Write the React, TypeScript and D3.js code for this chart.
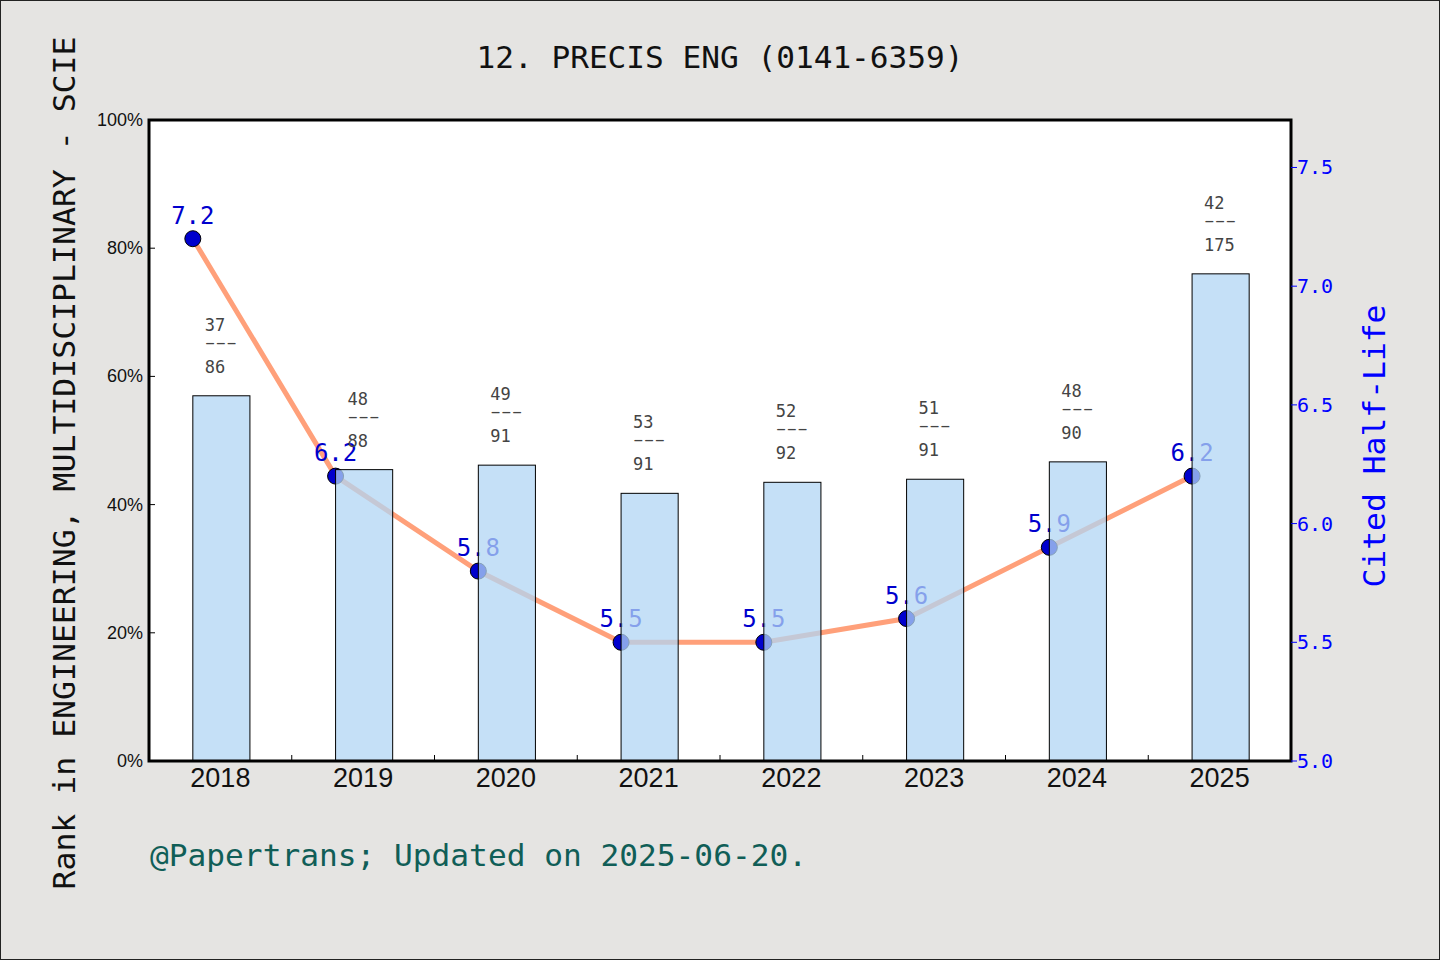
import * as React from 'react'
import * as d3 from 'd3'

// journal rank data, one entry per year
const years = ['2018', '2019', '2020', '2021', '2022', '2023', '2024', '2025']
const ranks = [37, 48, 49, 53, 52, 51, 48, 42]
const totals = [86, 88, 91, 91, 92, 91, 90, 175]
const halfLife = [7.2, 6.2, 5.8, 5.5, 5.5, 5.6, 5.9, 6.2]
const pctTicks = [0, 0.2, 0.4, 0.6, 0.8, 1.0]
const hlTicks = [5.0, 5.5, 6.0, 6.5, 7.0, 7.5]

const W = 1440
const H = 960
const left = 149
const right = 1291
const top = 120
const bottom = 761

const MONO = '"DejaVu Sans Mono", monospace'
const SANS = '"Liberation Sans", Arial, sans-serif'

export default function App() {
  const x = d3.scaleBand<string>().domain(years).range([left + 1, right + 1]).paddingInner(0.6).paddingOuter(0.3)
  const xStep = d3.scaleBand<string>().domain(years).range([left, right]).padding(0)
  const yPct = d3.scaleLinear().domain([0, 1]).range([bottom, top])
  const yHL = d3.scaleLinear().domain([5.0, 7.7]).range([bottom, top])
  const bw = x.bandwidth()

  const pts: [number, number][] = years.map((yr, i) => [x(yr)!, yHL(halfLife[i])])
  const linePath = d3.line()(pts) || ''

  return (
    <svg width={W} height={H} style={{ position: 'absolute', left: 0, top: 0 }}>
      <rect x={0.5} y={0.5} width={W - 1} height={H - 1} fill="#e5e4e2" stroke="#222" strokeWidth={1} />
      <rect x={left} y={top} width={right - left} height={bottom - top} fill="#fff" />

      {/* half-life line and markers, beneath the bars */}
      <path d={linePath} fill="none" stroke="#ffa07a" strokeWidth={5} />
      {pts.map(([px, py], i) => (
        <g key={years[i]}>
          <circle cx={px} cy={py} r={8} fill="#0000cd" stroke="#000" strokeWidth={1} />
          <text x={px} y={py - 15} textAnchor="middle" fontFamily={MONO} fontSize={24} fill="#0000cd">
            {halfLife[i].toFixed(1)}
          </text>
        </g>
      ))}

      {/* rank bars */}
      {years.map((yr, i) => {
        const v = 1 - ranks[i] / totals[i]
        const bt = yPct(v)
        const lx = x(yr)! + 12
        return (
          <g key={yr}>
            <rect x={x(yr)!} y={bt} width={bw} height={bottom - bt} fill="rgb(177,213,244)" fillOpacity={0.75} stroke="#000" strokeWidth={1} />
            <g fontFamily={MONO} fontSize={17} fill="#444">
              <text x={lx} y={bt - 65}>{ranks[i]}</text>
              <text x={lx} y={bt - 48} fontFamily={SANS} textLength={32} lengthAdjust="spacingAndGlyphs">---</text>
              <text x={lx} y={bt - 23}>{totals[i]}</text>
            </g>
          </g>
        )
      })}

      {/* frame */}
      <rect x={left} y={top} width={right - left} height={bottom - top} fill="none" stroke="#000" strokeWidth={3} />

      {/* bottom axis */}
      {years.slice(1).map(yr => (
        <line key={yr} x1={xStep(yr)!} x2={xStep(yr)!} y1={bottom} y2={bottom - 6} stroke="#000" strokeWidth={1} />
      ))}
      {years.map(yr => (
        <text key={yr} x={xStep(yr)! + xStep.bandwidth() / 2} y={787} textAnchor="middle" fontFamily={SANS} fontSize={27} fill="#111">
          {yr}
        </text>
      ))}

      {/* left axis */}
      {pctTicks.map(t => (
        <g key={t}>
          <line x1={left} x2={left + 6} y1={yPct(t)} y2={yPct(t)} stroke="#000" strokeWidth={1} />
          <text x={143} y={yPct(t) + 6} textAnchor="end" fontFamily={SANS} fontSize={18} fill="#111">
            {d3.format('.0%')(t)}
          </text>
        </g>
      ))}

      {/* right axis */}
      {hlTicks.map(t => (
        <g key={t}>
          <line x1={right} x2={right + 6} y1={yHL(t)} y2={yHL(t)} stroke="#0000ff" strokeWidth={1} />
          <text x={1297} y={yHL(t) + 7} fontFamily={MONO} fontSize={20} fill="#0000ff">
            {d3.format('.1f')(t)}
          </text>
        </g>
      ))}

      {/* titles */}
      <text x={720} y={68} textAnchor="middle" fontFamily={MONO} fontSize={31} fill="#111" textLength={487} lengthAdjust="spacingAndGlyphs">
        12. PRECIS ENG (0141-6359)
      </text>
      <text transform="translate(75,463) rotate(-90)" textAnchor="middle" fontFamily={MONO} fontSize={31} fill="#111" textLength={853} lengthAdjust="spacingAndGlyphs">
        Rank in ENGINEERING, MULTIDISCIPLINARY - SCIE
      </text>
      <text transform="translate(1385,446) rotate(-90)" textAnchor="middle" fontFamily={MONO} fontSize={31} fill="#0000ff" textLength={283} lengthAdjust="spacingAndGlyphs">
        Cited Half-Life
      </text>
      <text x={150} y={866} fontFamily={MONO} fontSize={31} fill="#105e57" textLength={657} lengthAdjust="spacingAndGlyphs">
        @Papertrans; Updated on 2025-06-20.
      </text>
    </svg>
  )
}
